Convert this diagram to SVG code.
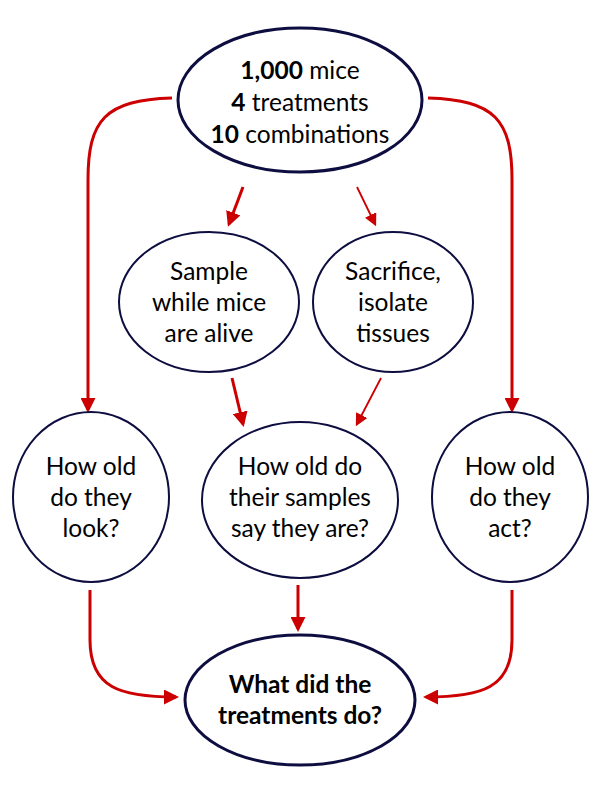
<svg xmlns="http://www.w3.org/2000/svg" width="600" height="800" viewBox="0 0 600 800">
<defs>
<style>
.n{fill:#fff;stroke:#0d0d40;stroke-width:2}
.k{stroke-width:3}
text{font-family:Lato,"Liberation Sans",sans-serif;font-size:24.5px;fill:#000;text-anchor:middle}
.c{fill:none;stroke:#cc0000;stroke-width:3}
.t{stroke-width:1.8}
</style>
<marker id="a" viewBox="0 0 10 10" refX="8" refY="5" markerWidth="5" markerHeight="5" orient="auto" markerUnits="strokeWidth"><path d="M0,0L10,5L0,10z" fill="#cc0000"/></marker>
<marker id="b" viewBox="0 0 10 10" refX="8" refY="5" markerWidth="7" markerHeight="7" orient="auto" markerUnits="strokeWidth"><path d="M0,0L10,5L0,10z" fill="#cc0000"/></marker>
</defs>
<g id="connectors">
<path class="c" marker-end="url(#a)" d="M172,98 C105,100 88,120 88,180 L88,410"/>
<path class="c" marker-end="url(#a)" d="M428,98 C495,100 512,120 512,180 L512,410"/>
<path class="c" marker-end="url(#a)" d="M243,187 L229,224"/>
<path class="c t" marker-end="url(#b)" d="M357,187 L375,224"/>
<path class="c" marker-end="url(#a)" d="M232,378 L243,424"/>
<path class="c t" marker-end="url(#b)" d="M381,378 L357,424"/>
<path class="c" marker-end="url(#a)" d="M298,585 L298,629"/>
<path class="c" marker-end="url(#a)" d="M90,590 L90,640 C90,688 120,697 176,697"/>
<path class="c" marker-end="url(#a)" d="M512,590 L512,640 C512,688 482,697 426,697"/>
</g>
<g id="top"><ellipse class="n k" cx="300" cy="100" rx="122" ry="72"/>
<text x="300" y="79"><tspan font-weight="bold">1,000</tspan> mice</text>
<text x="300" y="111"><tspan font-weight="bold">4</tspan> treatments</text>
<text x="300" y="143"><tspan font-weight="bold">10</tspan> combinations</text></g>
<g id="sample"><ellipse class="n" cx="209" cy="302" rx="90" ry="70"/>
<text x="209" y="280">Sample</text><text x="209" y="311">while mice</text><text x="209" y="342">are alive</text></g>
<g id="sacrifice"><ellipse class="n" cx="393" cy="302" rx="80" ry="70"/>
<text x="393" y="280">Sacrifice,</text><text x="393" y="311">isolate</text><text x="393" y="342">tissues</text></g>
<g id="look"><ellipse class="n" cx="91" cy="497" rx="78" ry="85"/>
<text x="91" y="475">How old</text><text x="91" y="506">do they</text><text x="91" y="537">look?</text></g>
<g id="samples"><ellipse class="n" cx="300" cy="500" rx="98" ry="78"/>
<text x="300" y="475">How old do</text><text x="300" y="506">their samples</text><text x="300" y="537">say they are?</text></g>
<g id="act"><ellipse class="n" cx="510" cy="497" rx="78" ry="85"/>
<text x="510" y="475">How old</text><text x="510" y="506">do they</text><text x="510" y="537">act?</text></g>
<g id="result"><ellipse class="n k" cx="300" cy="700" rx="115" ry="65"/>
<text x="300" y="693" font-weight="bold">What did the</text><text x="300" y="724" font-weight="bold">treatments do?</text></g>
</svg>
